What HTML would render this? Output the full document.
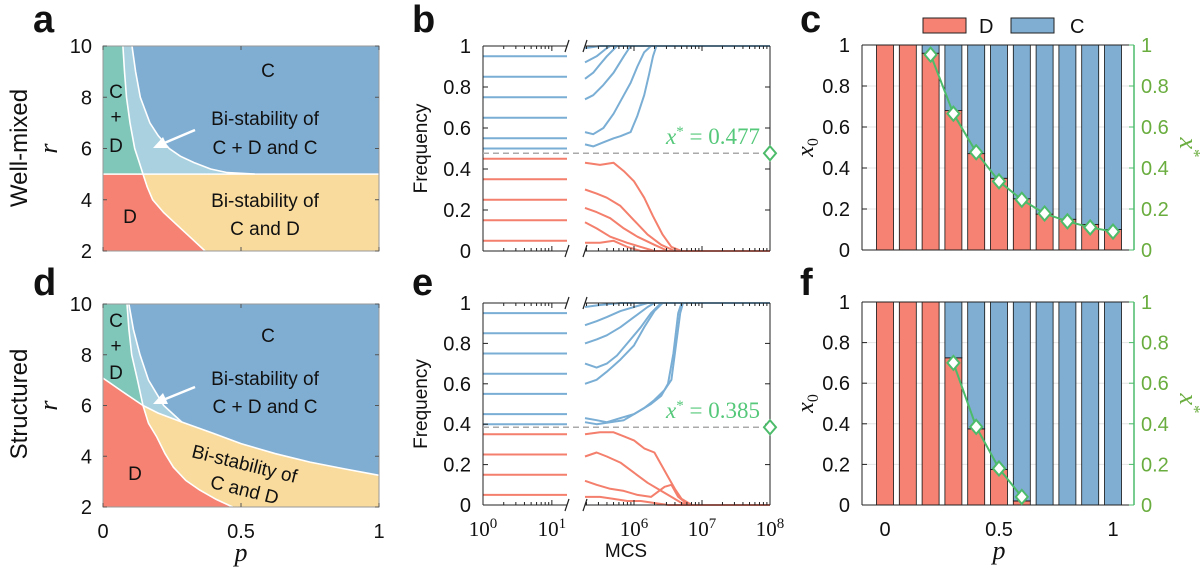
<!DOCTYPE html>
<html><head><meta charset="utf-8">
<style>
html,body{margin:0;padding:0;background:#fff;}
svg{display:block;font-family:"Liberation Sans",sans-serif;}
</style></head>
<body>
<svg id="fig" width="1200" height="568" viewBox="0 0 1200 568" xmlns="http://www.w3.org/2000/svg"></svg>
<script>
// ---------- DATA ----------
const aCurve1 = [[0.072,10],[0.078,9],[0.085,8],[0.098,7],[0.115,6],[0.13,5.5],[0.145,5],[0.16,4.5],[0.18,4],[0.22,3.5],[0.27,3],[0.32,2.5],[0.37,2]];
const aCurve2 = [[0.105,10],[0.118,9],[0.135,8],[0.17,7],[0.2,6.5],[0.24,6],[0.28,5.7],[0.33,5.45],[0.39,5.2],[0.45,5.06],[0.55,5]];
const aSplitR = [5];
const dCurve1 = [[0.087,10],[0.094,9],[0.104,8],[0.125,7],[0.145,6.0]];
const dCurve2 = [[0.094,10],[0.11,9],[0.134,8],[0.165,7],[0.22,6],[0.285,5.35]];
const dUpper = [[0.145,6.0],[0.2,5.7],[0.285,5.35],[0.4,4.9],[0.5,4.5],[0.625,4.1],[0.75,3.77],[0.875,3.5],[1,3.25]];
const dRedTop = [[0,7.08],[0.07,6.55],[0.145,6.0]];
const dLower = [[0.145,6.0],[0.165,5.3],[0.195,4.76],[0.225,4.1],[0.255,3.57],[0.3,3.05],[0.35,2.67],[0.41,2.3],[0.47,2]];

const bFlatBlue = [0.95,0.85,0.75,0.65,0.55,0.5];
const bFlatRed = [0.45,0.35,0.25,0.15,0.05];
const bBlueSeries = [
 [[5.28,0.99],[5.4,0.995],[5.5,1],[8,1]],
 [[5.28,0.92],[5.45,0.95],[5.6,0.99],[5.65,1],[8,1]],
 [[5.28,0.84],[5.4,0.87],[5.5,0.91],[5.6,0.95],[5.75,1],[8,1]],
 [[5.28,0.74],[5.4,0.76],[5.55,0.81],[5.7,0.87],[5.85,0.95],[5.95,1],[8,1]],
 [[5.28,0.58],[5.4,0.57],[5.55,0.6],[5.7,0.67],[5.85,0.76],[5.95,0.82],[6.05,0.9],[6.15,0.97],[6.25,1],[8,1]],
 [[5.28,0.52],[5.4,0.51],[5.55,0.53],[5.7,0.55],[5.8,0.56],[5.95,0.58],[6.05,0.66],[6.15,0.76],[6.22,0.86],[6.28,0.95],[6.33,1],[8,1]]
];
const bRedSeries = [
 [[5.28,0.43],[5.5,0.42],[5.7,0.43],[5.85,0.39],[6.0,0.34],[6.15,0.26],[6.28,0.17],[6.42,0.08],[6.55,0.02],[6.7,0],[8,0]],
 [[5.28,0.3],[5.45,0.28],[5.6,0.26],[5.8,0.22],[6.0,0.15],[6.2,0.08],[6.4,0.03],[6.6,0],[8,0]],
 [[5.28,0.21],[5.45,0.19],[5.65,0.16],[5.85,0.11],[6.05,0.07],[6.3,0.03],[6.5,0],[8,0]],
 [[5.28,0.14],[5.45,0.11],[5.65,0.07],[5.9,0.04],[6.1,0.02],[6.3,0],[8,0]],
 [[5.28,0.04],[5.5,0.04],[5.7,0.05],[5.9,0.02],[6.1,0],[8,0]]
];
const bXstar = [0.477];

const eFlatBlue = [0.95,0.85,0.75,0.65,0.55,0.45,0.40];
const eFlatRed = [0.35,0.25,0.15,0.05];
const eBlueSeries = [
 [[5.28,0.98],[5.5,0.99],[5.8,1],[8,1]],
 [[5.28,0.89],[5.45,0.91],[5.6,0.93],[5.8,0.96],[6.0,0.98],[6.2,1],[8,1]],
 [[5.28,0.8],[5.45,0.82],[5.6,0.84],[5.8,0.88],[6.0,0.93],[6.2,0.98],[6.3,1],[8,1]],
 [[5.28,0.7],[5.45,0.68],[5.6,0.7],[5.75,0.74],[5.95,0.82],[6.1,0.88],[6.25,0.95],[6.4,1],[8,1]],
 [[5.28,0.6],[5.45,0.62],[5.6,0.66],[5.8,0.72],[6.0,0.79],[6.15,0.88],[6.3,0.96],[6.42,1],[8,1]],
 [[5.28,0.43],[5.45,0.42],[5.6,0.41],[5.8,0.43],[6.0,0.45],[6.15,0.48],[6.3,0.52],[6.45,0.57],[6.55,0.62],[6.62,0.8],[6.68,0.95],[6.72,1],[8,1]],
 [[5.28,0.41],[5.45,0.4],[5.65,0.41],[5.85,0.42],[6.05,0.46],[6.25,0.5],[6.4,0.54],[6.5,0.6],[6.58,0.75],[6.65,0.95],[6.7,1],[8,1]]
];
const eRedSeries = [
 [[5.28,0.35],[5.5,0.36],[5.7,0.36],[5.85,0.34],[6.0,0.32],[6.15,0.28],[6.3,0.26],[6.4,0.2],[6.5,0.14],[6.6,0.08],[6.7,0.03],[6.85,0],[8,0]],
 [[5.28,0.24],[5.45,0.26],[5.6,0.24],[5.8,0.21],[6.0,0.16],[6.2,0.11],[6.4,0.07],[6.55,0.04],[6.7,0.01],[6.8,0],[8,0]],
 [[5.28,0.12],[5.45,0.1],[5.65,0.08],[5.85,0.07],[6.05,0.05],[6.25,0.04],[6.45,0.09],[6.55,0.1],[6.65,0.04],[6.8,0],[8,0]],
 [[5.28,0.04],[5.5,0.04],[5.7,0.03],[5.9,0.02],[6.1,0.02],[6.3,0.01],[6.5,0],[8,0]]
];
const eXstar = [0.385];

const pCats = [0,0.1,0.2,0.3,0.4,0.5,0.6,0.7,0.8,0.9,1.0];
const cDfrac = [1,1,0.96,0.68,0.47,0.35,0.25,0.175,0.15,0.125,0.1];
const cXstarP = [0.2,0.3,0.4,0.5,0.6,0.7,0.8,0.9,1.0];
const cXstar = [0.953,0.665,0.477,0.335,0.245,0.178,0.14,0.11,0.09];
const fDfrac = [1,1,1,0.725,0.375,0.175,0.02,0,0,0,0];
const fXstarP = [0.3,0.4,0.5,0.6];
const fXstar = [0.70,0.385,0.18,0.04];
const fracTicks = ['0','0.2','0.4','0.6','0.8','1'];
const rTicks = ['2','4','6','8','10'];

// ---------- HELPERS ----------
const NS='http://www.w3.org/2000/svg';
const svg=document.getElementById('fig');
function mk(tag,attrs,parent,text){const e=document.createElementNS(NS,tag);for(const k in attrs)e.setAttribute(k,attrs[k]);if(text!==undefined)e.textContent=text;(parent||svg).appendChild(e);return e;}
const BLUE='#80aed3',RED='#f58272',YEL='#f9db9d',TEAL='#80c6b9',LBLUE='#aad1e0';
const LBLUE_LINE='#7aaed4',LRED_LINE='#f47f6c',GREEN='#4cbb6a',OLIVE='#6aad3f',XGREEN='#55c87a';
const TK=20, LB=19;

function txt(x,y,s,opts,name){const t=mk('text',Object.assign({x:x,y:y,'font-size':LB,fill:'#111'},opts||{}),svg,s);
 
 return t;}

// ---------- PANEL LETTERS / ROW LABELS ----------
[['a',33,32],['b',412,32],['c',800,32],['d',33,295],['e',412,295],['f',800,295]].forEach(l=>{
 txt(l[1],l[2],l[0],{'font-size':38,'font-weight':'bold'},'panel-letter-'+l[0]);
});
txt(0,0,'Well-mixed',{'font-size':24,transform:'translate(27,148) rotate(-90)','text-anchor':'middle'},'row-label-well-mixed');
txt(0,0,'Structured',{'font-size':24,transform:'translate(27,404) rotate(-90)','text-anchor':'middle'},'row-label-structured');

// ---------- PHASE DIAGRAMS ----------
function phase(top,bot,name){
 const L=103,R=379;
 const px=p=>L+p*(R-L), py=r=>bot-(r-2)/8*(bot-top);
 const g=mk('g',{});
 return {L,R,top,bot,px,py,g,
  pts:arr=>arr.map(a=>px(a[0]).toFixed(1)+','+py(a[1]).toFixed(1)).join(' ')};
}
function poly(P,arr,fill,name){const e=mk('polygon',{points:P.pts(arr),fill:fill},P.g);}
function wline(P,arr,name){const e=mk('polyline',{points:P.pts(arr),fill:'none',stroke:'#fff','stroke-width':1.6},P.g);}
function phaseAxes(P,showX,prefix){
 mk('rect',{x:P.L,y:P.top,width:P.R-P.L,height:P.bot-P.top,fill:'none',stroke:'#999','stroke-width':1},P.g);
 [2,4,6,8,10].forEach((r,i)=>{const y=P.py(r);
  mk('line',{x1:P.L,x2:P.L+4,y1:y,y2:y,stroke:'#555'},P.g);mk('line',{x1:P.R,x2:P.R-4,y1:y,y2:y,stroke:'#555'},P.g);
  txt(92,y+7,rTicks[i],{'text-anchor':'end','font-size':TK},prefix+'-y-tick');});
 [0,0.5,1].forEach(p=>{const x=P.px(p);mk('line',{x1:x,x2:x,y1:P.bot,y2:P.bot-4,stroke:'#555'},P.g);mk('line',{x1:x,x2:x,y1:P.top,y2:P.top+4,stroke:'#555'},P.g);
  if(showX)txt(x,P.bot+31,String(p),{'text-anchor':'middle','font-size':TK},prefix+'-x-tick');});
 txt(0,0,'r',{'font-size':26,'font-style':'italic','font-family':'"Liberation Serif",serif',transform:'translate(57,'+((P.top+P.bot)/2)+') rotate(-90)','text-anchor':'middle'},prefix+'-y-axis-title');
 if(showX)txt(P.px(0.5),P.bot+54,'p',{'font-size':26,'font-style':'italic','font-family':'"Liberation Serif",serif','text-anchor':'middle'},prefix+'-x-axis-title');
}
(function(){
 const P=phase(46,251,'phase-diagram-well-mixed');
 const rs=aSplitR[0];
 mk('rect',{x:P.L,y:P.top,width:P.R-P.L,height:P.bot-P.top,fill:BLUE},P.g);
 poly(P,[[0,2],[0,rs],[1,rs],[1,2]],YEL,'region-bistable-c-d');
 const i5=aCurve1.findIndex(a=>a[1]===rs);
 poly(P,[[0,2],[0,rs]].concat(aCurve1.slice(i5)),RED,'region-d');
 poly(P,[[0,rs],[0,10]].concat(aCurve1.slice(0,i5+1)),TEAL,'region-c-plus-d');
 poly(P,aCurve1.slice(0,i5+1).concat(aCurve2.slice().reverse()),LBLUE,'region-bistable-cd-c');
 mk('line',{x1:P.px(0),x2:P.px(1),y1:P.py(rs),y2:P.py(rs),stroke:'#fff','stroke-width':1.6},P.g);
 wline(P,aCurve1,'boundary-1');wline(P,aCurve2,'boundary-2');
 txt(268,77,'C',{'text-anchor':'middle'},'label-c');
 txt(265,125,'Bi-stability of',{'text-anchor':'middle'},'label-bistab-cd-c');
 txt(265,154,'C + D and C',{'text-anchor':'middle'},'label-bistab-cd-c-2');
 txt(116,98,'C',{'text-anchor':'middle'},'label-cd');txt(116,123,'+',{'text-anchor':'middle'},'label-cd');txt(116,152,'D',{'text-anchor':'middle'},'label-cd');
 txt(130,223,'D',{'text-anchor':'middle'},'label-d');
 txt(265,207,'Bi-stability of',{'text-anchor':'middle'},'label-bistab-c-d');
 txt(265,235,'C and D',{'text-anchor':'middle'},'label-bistab-c-d-2');
 mk('line',{x1:195,y1:130,x2:162,y2:144,stroke:'#fff','stroke-width':2.5},P.g);
 mk('polygon',{points:'153,148 163,137 168,148',fill:'#fff'},P.g);
 phaseAxes(P,false,'a');
})();
(function(){
 const P=phase(304,507,'phase-diagram-structured');
 mk('rect',{x:P.L,y:P.top,width:P.R-P.L,height:P.bot-P.top,fill:BLUE},P.g);
 poly(P,dUpper.concat([[1,2]]).concat(dLower.slice().reverse()),YEL,'region-bistable-c-d');
 poly(P,[[0,2]].concat(dRedTop).concat(dLower.slice(1)),RED,'region-d');
 poly(P,[[0,10]].concat(dCurve1).concat(dRedTop.slice().reverse()),TEAL,'region-c-plus-d');
 const iU=dUpper.findIndex(a=>a[0]===dCurve2[dCurve2.length-1][0]);
 poly(P,dCurve1.concat(dUpper.slice(1,iU+1)).concat(dCurve2.slice().reverse()),LBLUE,'region-bistable-cd-c');
 wline(P,dRedTop,'boundary-red');wline(P,dLower,'boundary-lower');wline(P,dUpper,'boundary-upper');
 wline(P,dCurve1,'boundary-1');wline(P,dCurve2,'boundary-2');
 txt(268,342,'C',{'text-anchor':'middle'},'label-c');
 txt(265,385,'Bi-stability of',{'text-anchor':'middle'},'label-bistab-cd-c');
 txt(265,413,'C + D and C',{'text-anchor':'middle'},'label-bistab-cd-c-2');
 txt(116,327,'C',{'text-anchor':'middle'},'label-cd');txt(116,352,'+',{'text-anchor':'middle'},'label-cd');txt(116,379,'D',{'text-anchor':'middle'},'label-cd');
 txt(135,480,'D',{'text-anchor':'middle'},'label-d');
 txt(0,0,'Bi-stability of',{'text-anchor':'middle',transform:'translate(243,470) rotate(14)'},'label-bistab-c-d');
 txt(0,0,'C and D',{'text-anchor':'middle',transform:'translate(243,496) rotate(14)'},'label-bistab-c-d-2');
 mk('line',{x1:195,y1:387,x2:163,y2:400,stroke:'#fff','stroke-width':2.5},P.g);
 mk('polygon',{points:'153,404 163,393 168,404',fill:'#fff'},P.g);
 phaseAxes(P,true,'d');
})();

// ---------- TIME SERIES ----------
function timeSeries(top,bot,flatBlue,flatRed,blueS,redS,xstar,name,showX,prefix){
 const g=mk('g',{});
 const L1=483,R1=567,L2=585,R2=770,dec=68;
 const xl=l=>L1+l*(R1-L1)/1.22, xr=l=>R2-(8-l)*dec, y=v=>bot-v*(bot-top);
 flatBlue.forEach(v=>{const e=mk('line',{x1:L1,x2:R1,y1:y(v),y2:y(v),stroke:LBLUE_LINE,'stroke-width':2},g);});
 flatRed.forEach(v=>{const e=mk('line',{x1:L1,x2:R1,y1:y(v),y2:y(v),stroke:LRED_LINE,'stroke-width':2},g);});
 const path=(s,c,n)=>{const e=mk('polyline',{points:s.map(a=>xr(a[0]).toFixed(1)+','+y(a[1]).toFixed(1)).join(' '),fill:'none',stroke:c,'stroke-width':2,'stroke-linejoin':'round'},g);};
 blueS.forEach(s=>path(s,LBLUE_LINE,'trajectory-c'));
 redS.forEach(s=>path(s,LRED_LINE,'trajectory-d'));
 [[L1,R1],[L2,R2]].forEach(s=>{mk('line',{x1:s[0],x2:s[1],y1:top,y2:top,stroke:'#222'},g);mk('line',{x1:s[0],x2:s[1],y1:bot,y2:bot,stroke:'#222'},g);});
 mk('line',{x1:L1,x2:L1,y1:top,y2:bot,stroke:'#222'},g);mk('line',{x1:R2,x2:R2,y1:top,y2:bot,stroke:'#222'},g);
 [R1,L2].forEach(x=>{[top,bot].forEach(yy=>mk('line',{x1:x-2,x2:x+2,y1:yy+6,y2:yy-6,stroke:'#222','stroke-width':1.2},g));});
 [0,0.2,0.4,0.6,0.8,1].forEach((v,i)=>{const yy=y(v);mk('line',{x1:L1,x2:L1+5,y1:yy,y2:yy,stroke:'#222'},g);mk('line',{x1:R2,x2:R2-5,y1:yy,y2:yy,stroke:'#222'},g);
  txt(471,yy+7,fracTicks[i],{'text-anchor':'end','font-size':TK},prefix+'-y-tick');});
 const tick=(x,len)=>{mk('line',{x1:x,x2:x,y1:bot,y2:bot-len,stroke:'#222'},g);mk('line',{x1:x,x2:x,y1:top,y2:top+len,stroke:'#222'},g);};
 tick(xl(1),5);for(let k=2;k<10;k++)tick(xl(Math.log10(k)),3);
 [6,7].forEach(d=>tick(xr(d),5));
 [5,6,7].forEach(d=>{for(let k=2;k<10;k++){const l=d+Math.log10(k);if(l>5.28&&l<8)tick(xr(l),3);}});
 const xs=xstar[0];
 mk('line',{x1:L1,x2:R2,y1:y(xs),y2:y(xs),stroke:'#aaa','stroke-width':1.5,'stroke-dasharray':'6,4'},g);
 const dm=mk('polygon',{points:`${R2},${y(xs)-7} ${R2+6},${y(xs)} ${R2},${y(xs)+7} ${R2-6},${y(xs)}`,fill:'#fff',stroke:GREEN,'stroke-width':2},g);
 
 const t=txt(760,y(xs)-9,'',{'text-anchor':'end','font-size':23,fill:XGREEN,'font-family':'"Liberation Serif",serif'},prefix+'-xstar-label');
 mk('tspan',{'font-style':'italic'},t,'x');mk('tspan',{dy:-8,'font-size':15},t,'*');mk('tspan',{dy:8},t,' = '+xs.toFixed(3));
 txt(0,0,'Frequency',{'font-size':19,transform:'translate(427,'+((top+bot)/2)+') rotate(-90)','text-anchor':'middle'},prefix+'-y-axis-title');
 if(showX){
  [[xl(0),'0'],[xl(1),'1'],[xr(6),'6'],[xr(7),'7'],[xr(8),'8']].forEach(a=>{
   const tt=txt(a[0],bot+31,'',{'text-anchor':'middle','font-size':21,'font-family':'"Liberation Serif",serif'},prefix+'-x-tick');
   mk('tspan',{},tt,'10');mk('tspan',{dy:-8,'font-size':15},tt,a[1]);});
  txt(626,bot+52,'MCS',{'text-anchor':'middle','font-size':19},prefix+'-x-axis-title');
 }
}
timeSeries(46,251,bFlatBlue,bFlatRed,bBlueSeries,bRedSeries,bXstar,'frequency-plot-well-mixed',false,'b');
timeSeries(303,505,eFlatBlue,eFlatRed,eBlueSeries,eRedSeries,eXstar,'frequency-plot-structured',true,'e');

// ---------- BAR PANELS ----------
function barPanel(top,bot,dfrac,xp,xv,name,showX,prefix){
 const g=mk('g',{});
 const L=862,R=1134,x=p=>885+p*228,y=v=>bot-v*(bot-top),bw=17;
 [0.2,0.4,0.6,0.8].forEach(v=>mk('line',{x1:L,x2:R,y1:y(v),y2:y(v),stroke:'#e4e4e4'},g));
 pCats.forEach((p,i)=>{const cx=x(p),d=dfrac[i];
  const rb=mk('rect',{x:cx-bw/2,y:y(d),width:bw,height:y(0)-y(d),fill:RED,stroke:'#111','stroke-width':0.8},g);
  
  if(d<1){const cb=mk('rect',{x:cx-bw/2,y:y(1),width:bw,height:y(d)-y(1),fill:BLUE,stroke:'#111','stroke-width':0.8},g);
   }
 });
 mk('line',{x1:L,x2:R,y1:top,y2:top,stroke:'#222'},g);mk('line',{x1:L,x2:R,y1:bot,y2:bot,stroke:'#222'},g);
 mk('line',{x1:L,x2:L,y1:top,y2:bot,stroke:'#222'},g);mk('line',{x1:R,x2:R,y1:top,y2:bot,stroke:GREEN,'stroke-width':1.5},g);
 [0,0.2,0.4,0.6,0.8,1].forEach((v,i)=>{const yy=y(v);
  mk('line',{x1:L,x2:L+5,y1:yy,y2:yy,stroke:'#222'},g);mk('line',{x1:R,x2:R-5,y1:yy,y2:yy,stroke:GREEN},g);
  txt(850,yy+7,fracTicks[i],{'text-anchor':'end','font-size':TK},prefix+'-y-tick');
  txt(1141,yy+7,fracTicks[i],{'font-size':TK,fill:OLIVE},prefix+'-y2-tick');});
 const ln=mk('polyline',{points:xp.map((p,i)=>x(p)+','+y(xv[i])).join(' '),fill:'none',stroke:GREEN,'stroke-width':2},g);
 
 xp.forEach((p,i)=>{const cx=x(p),cy=y(xv[i]);
  const m=mk('polygon',{points:`${cx},${cy-7} ${cx+6},${cy} ${cx},${cy+7} ${cx-6},${cy}`,fill:'#fff',stroke:GREEN,'stroke-width':2},g);
  });
 const yt=txt(0,0,'',{'font-size':24,'font-family':'"Liberation Serif",serif',transform:'translate(813,'+((top+bot)/2)+') rotate(-90)','text-anchor':'middle'},prefix+'-y-axis-title');
 mk('tspan',{'font-style':'italic'},yt,'x');mk('tspan',{dy:5,'font-size':16},yt,'0');
 const yt2=txt(0,0,'',{'font-size':26,fill:OLIVE,'font-family':'"Liberation Serif",serif',transform:'translate(1180,'+((top+bot)/2)+') rotate(90)','text-anchor':'middle'},prefix+'-y2-axis-title');
 mk('tspan',{'font-style':'italic'},yt2,'x');mk('tspan',{dy:-9,'font-size':17},yt2,'*');
 if(showX){[0,0.5,1].forEach(p=>txt(x(p),bot+31,String(p),{'text-anchor':'middle','font-size':TK},prefix+'-x-tick'));
  txt(x(0.5),bot+54,'p',{'font-size':26,'font-style':'italic','font-family':'"Liberation Serif",serif','text-anchor':'middle'},prefix+'-x-axis-title');}
}
barPanel(45,250,cDfrac,cXstarP,cXstar,'bar-chart-well-mixed',false,'c');
barPanel(302,505,fDfrac,fXstarP,fXstar,'bar-chart-structured',true,'f');

const lg=mk('g',{});
const lr=mk('rect',{x:923,y:18,width:43,height:15,fill:RED,stroke:'#222'},lg);
txt(979,33,'D',{'font-size':20},'legend-entry-d');
const lb=mk('rect',{x:1011,y:18,width:43,height:15,fill:BLUE,stroke:'#222'},lg);
txt(1070,33,'C',{'font-size':20},'legend-entry-c');
</script>
</body></html>
